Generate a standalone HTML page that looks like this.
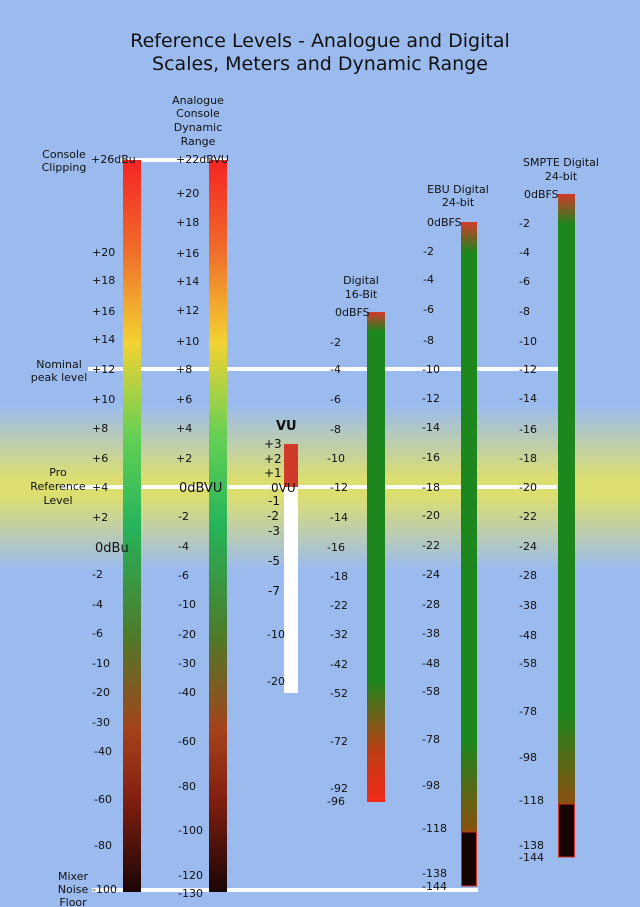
<!DOCTYPE html>
<html><head><meta charset="utf-8"><style>
html,body{margin:0;padding:0;background:#9bbbef;}
svg{display:block;font-family:"DejaVu Sans","Liberation Sans",sans-serif;}
</style></head><body>
<svg width="640" height="907" viewBox="0 0 640 907" xmlns="http://www.w3.org/2000/svg">
<defs>
<linearGradient id="band" x1="0" y1="0" x2="0" y2="1">
<stop offset="0" stop-color="#9bbbef"/><stop offset="0.45" stop-color="#dcdf70"/><stop offset="0.55" stop-color="#dcdf70"/><stop offset="1" stop-color="#9bbbef"/>
</linearGradient>
<linearGradient id="ana" x1="0" y1="0" x2="0" y2="1">
<stop offset="0" stop-color="#f42424"/><stop offset="0.12" stop-color="#f06a2a"/><stop offset="0.25" stop-color="#f3d232"/><stop offset="0.38" stop-color="#63d055"/><stop offset="0.5" stop-color="#25b45a"/><stop offset="0.65" stop-color="#4e7a2a"/><stop offset="0.78" stop-color="#a5421a"/><stop offset="0.87" stop-color="#842010"/><stop offset="1" stop-color="#1a0505"/>
</linearGradient>
<linearGradient id="d16" x1="0" y1="0" x2="0" y2="1">
<stop offset="0" stop-color="#d23a2a"/><stop offset="0.04" stop-color="#1d861d"/><stop offset="0.75" stop-color="#1d861d"/><stop offset="0.9" stop-color="#c03c15"/><stop offset="1" stop-color="#f32a1a"/>
</linearGradient>
<linearGradient id="d24" x1="0" y1="0" x2="0" y2="1">
<stop offset="0" stop-color="#d23a2a"/><stop offset="0.05" stop-color="#1d861d"/><stop offset="0.85" stop-color="#1d861d"/><stop offset="1" stop-color="#8a5010"/>
</linearGradient>
</defs>
<rect x="0" y="405" width="640" height="165" fill="url(#band)"/>
<g fill="#fff">
<rect x="120" y="158" width="108" height="4"/>
<rect x="88" y="367" width="470" height="4"/>
<rect x="60" y="485" width="497" height="4"/>
<rect x="92" y="888" width="386" height="4"/>
</g>
<rect x="123" y="160" width="18" height="732" fill="url(#ana)"/>
<rect x="209" y="160" width="18" height="732" fill="url(#ana)"/>
<rect x="284" y="444" width="14" height="43" fill="#cf3a2a"/>
<rect x="284" y="487" width="14" height="206" fill="#fff"/>
<rect x="367" y="312" width="18" height="490" fill="url(#d16)"/>
<rect x="461" y="222" width="16" height="610" fill="url(#d24)"/>
<rect x="461.5" y="832" width="15" height="54" fill="#150202" stroke="#d03020"/>
<rect x="558" y="194" width="17" height="610" fill="url(#d24)"/>
<rect x="558.5" y="804" width="16" height="53" fill="#150202" stroke="#d03020"/>
<g text-anchor="middle" font-size="19" fill="#111">
<text x="320" y="47">Reference Levels - Analogue and Digital</text>
<text x="320" y="70">Scales, Meters and Dynamic Range</text>
</g>
<g text-anchor="middle" font-size="11" fill="#111">
<text x="198" y="104">Analogue</text><text x="198" y="117">Console</text><text x="198" y="131">Dynamic</text><text x="198" y="145">Range</text>
<text x="64" y="158">Console</text><text x="64" y="171">Clipping</text>
<text x="59" y="368">Nominal</text><text x="59" y="381">peak level</text>
<text x="58" y="476">Pro</text><text x="58" y="490">Reference</text><text x="58" y="504">Level</text>
<text x="73" y="880">Mixer</text><text x="73" y="893">Noise</text><text x="73" y="906">Floor</text>
<text x="361" y="284">Digital</text><text x="361" y="298">16-Bit</text>
<text x="458" y="193">EBU Digital</text><text x="458" y="206">24-bit</text>
<text x="561" y="166">SMPTE Digital</text><text x="561" y="180">24-bit</text>
</g>
<g font-size="11" fill="#111">
<text x="91" y="163">+26dBu</text>
<g>
<text x="92" y="256">+20</text><text x="92" y="284">+18</text><text x="92" y="315">+16</text><text x="92" y="343">+14</text><text x="92" y="373">+12</text><text x="92" y="403">+10</text><text x="92" y="432">+8</text><text x="92" y="462">+6</text><text x="92" y="491">+4</text><text x="92" y="521">+2</text><text x="92" y="578">-2</text><text x="92" y="608">-4</text><text x="92" y="637">-6</text><text x="92" y="667">-10</text><text x="92" y="696">-20</text><text x="92" y="726">-30</text><text x="94" y="755">-40</text><text x="94" y="803">-60</text><text x="94" y="849">-80</text><text x="92" y="893">-100</text>
</g>
<text x="95" y="552" font-size="13">0dBu</text>
<text x="176" y="163">+22dBVU</text>
<text x="176" y="197">+20</text><text x="176" y="226">+18</text><text x="176" y="257">+16</text><text x="176" y="285">+14</text><text x="176" y="314">+12</text><text x="176" y="345">+10</text><text x="176" y="373">+8</text><text x="176" y="403">+6</text><text x="176" y="432">+4</text><text x="176" y="462">+2</text><text x="178" y="520">-2</text><text x="178" y="550">-4</text><text x="178" y="579">-6</text><text x="178" y="608">-10</text><text x="178" y="638">-20</text><text x="178" y="667">-30</text><text x="178" y="696">-40</text><text x="178" y="745">-60</text><text x="178" y="790">-80</text><text x="178" y="834">-100</text><text x="178" y="879">-120</text><text x="178" y="897">-130</text>
<text x="179" y="492" font-size="13">0dBVU</text>
<text x="276" y="430" font-size="13" font-weight="bold">VU</text>
<g font-size="12"><text x="264" y="448">+3</text><text x="264" y="463">+2</text><text x="264" y="477">+1</text><text x="271" y="492">0VU</text><text x="268" y="505">-1</text><text x="267" y="520">-2</text><text x="268" y="535">-3</text><text x="268" y="565">-5</text><text x="268" y="595">-7</text></g>
<text x="267" y="638">-10</text><text x="267" y="685">-20</text>
<text x="335" y="316">0dBFS</text>
<text x="330" y="346">-2</text><text x="330" y="373">-4</text><text x="330" y="403">-6</text><text x="330" y="433">-8</text><text x="327" y="462">-10</text><text x="330" y="491">-12</text><text x="330" y="521">-14</text><text x="327" y="551">-16</text><text x="330" y="580">-18</text><text x="330" y="609">-22</text><text x="330" y="638">-32</text><text x="330" y="668">-42</text><text x="330" y="697">-52</text><text x="330" y="745">-72</text><text x="330" y="792">-92</text><text x="327" y="805">-96</text>
<text x="427" y="226">0dBFS</text>
<text x="423" y="255">-2</text><text x="423" y="283">-4</text><text x="423" y="313">-6</text><text x="423" y="344">-8</text><text x="422" y="373">-10</text><text x="422" y="402">-12</text><text x="422" y="431">-14</text><text x="422" y="461">-16</text><text x="422" y="491">-18</text><text x="422" y="519">-20</text><text x="422" y="549">-22</text><text x="422" y="578">-24</text><text x="422" y="608">-28</text><text x="422" y="637">-38</text><text x="422" y="667">-48</text><text x="422" y="695">-58</text><text x="422" y="743">-78</text><text x="422" y="789">-98</text><text x="422" y="832">-118</text><text x="422" y="877">-138</text><text x="422" y="890">-144</text>
<text x="524" y="198">0dBFS</text>
<text x="519" y="227">-2</text><text x="519" y="256">-4</text><text x="519" y="285">-6</text><text x="519" y="315">-8</text><text x="519" y="345">-10</text><text x="519" y="373">-12</text><text x="519" y="402">-14</text><text x="519" y="433">-16</text><text x="519" y="462">-18</text><text x="519" y="491">-20</text><text x="519" y="520">-22</text><text x="519" y="550">-24</text><text x="519" y="579">-28</text><text x="519" y="609">-38</text><text x="519" y="639">-48</text><text x="519" y="667">-58</text><text x="519" y="715">-78</text><text x="519" y="761">-98</text><text x="519" y="804">-118</text><text x="519" y="849">-138</text><text x="519" y="861">-144</text>
</g>
</svg>
</body></html>
